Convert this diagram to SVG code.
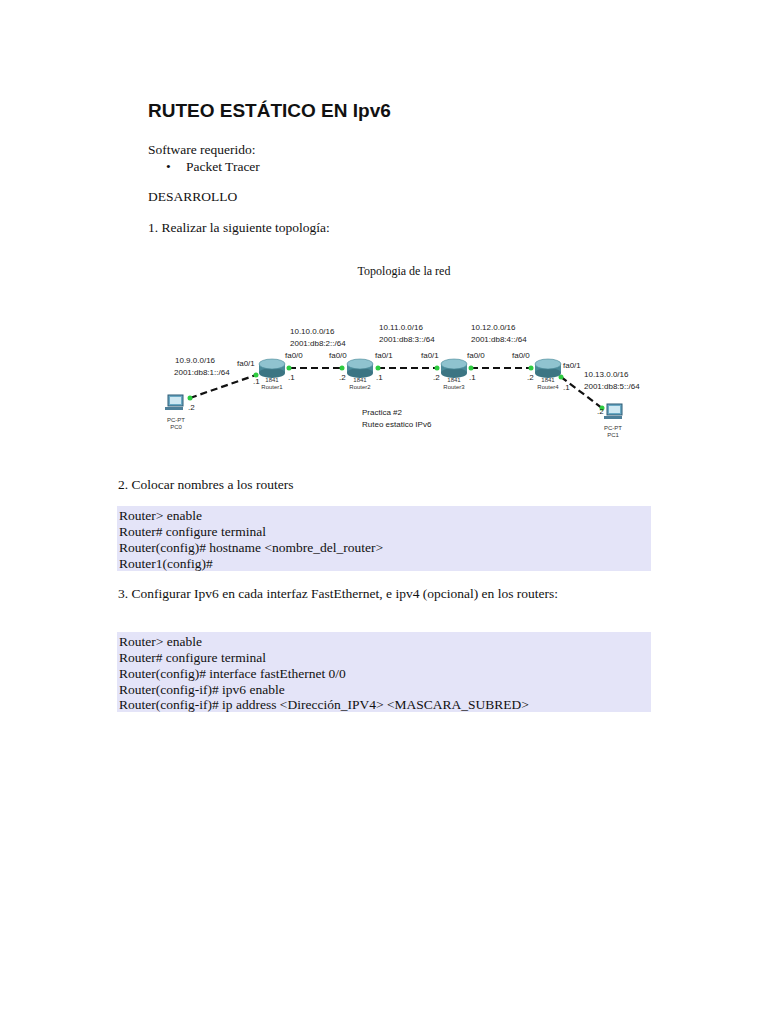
<svg xmlns="http://www.w3.org/2000/svg" width="768" height="1024" viewBox="0 0 768 1024">
<style>
.s{font-family:"Liberation Serif",serif;font-size:13.5px;fill:#111}
.t{font-family:"Liberation Sans",sans-serif;font-size:8px;fill:#222}
.l{font-family:"Liberation Sans",sans-serif;font-size:6px;fill:#333}
.lk{stroke:#111;stroke-width:2.2;stroke-dasharray:7,4;fill:none}
.d{fill:#2ecc40}
</style>
<defs>
<g id="rt"><rect x="-13" y="-4" width="26" height="9" fill="#4a8a99"/><ellipse cx="0" cy="5" rx="13" ry="5" fill="#3c7583"/><ellipse cx="0" cy="-4" rx="13" ry="5" fill="#8fc3cf" stroke="#4a8a99" stroke-width="0.6"/></g>
<g id="pc"><rect x="-7" y="-10" width="15" height="11" fill="#6aa9c4" stroke="#2d5b75"/><rect x="-5" y="-8" width="11" height="7" fill="#cfe8f2"/><rect x="-10" y="2" width="18" height="3" fill="#4d7f99"/></g>
</defs>
<rect width="768" height="1024" fill="#fff"/>
<text x="148" y="117" style="font-family:'Liberation Sans',sans-serif;font-size:19px;font-weight:bold;fill:#111">RUTEO ESTÁTICO EN Ipv6</text>
<text class="s" x="148" y="154">Software requerido:</text>
<text class="s" x="166" y="171">•</text>
<text class="s" x="186" y="171">Packet Tracer</text>
<text class="s" x="148" y="201">DESARROLLO</text>
<text class="s" x="148" y="232">1. Realizar la siguiente topología:</text>
<text class="s" x="404" y="275" text-anchor="middle" style="font-size:12px">Topologia de la red</text>
<g id="connectors">
<line class="lk" x1="190" y1="398" x2="256" y2="375"/>
<line class="lk" x1="289" y1="368" x2="342" y2="368"/>
<line class="lk" x1="378" y1="368" x2="437" y2="368"/>
<line class="lk" x1="471" y1="368" x2="531" y2="368"/>
<line class="lk" x1="561" y1="377" x2="602" y2="408"/>
<circle class="d" cx="190" cy="398" r="2.5"/><circle class="d" cx="256" cy="375" r="2.5"/>
<circle class="d" cx="289" cy="368" r="2.5"/><circle class="d" cx="342" cy="368" r="2.5"/>
<circle class="d" cx="378" cy="368" r="2.5"/><circle class="d" cx="437" cy="368" r="2.5"/>
<circle class="d" cx="471" cy="368" r="2.5"/><circle class="d" cx="531" cy="368" r="2.5"/>
<circle class="d" cx="561" cy="377" r="2.5"/><circle class="d" cx="602" cy="408" r="2.5"/>
</g>
<g id="pc0"><use href="#pc" x="175" y="405"/><text class="l" x="176" y="422" text-anchor="middle">PC-PT</text><text class="l" x="176" y="429" text-anchor="middle">PC0</text><text class="t" x="188" y="410">.2</text></g>
<g id="router1"><use href="#rt" x="272" y="368"/><text class="l" x="272" y="382" text-anchor="middle">1841</text><text class="l" x="272" y="389" text-anchor="middle">Router1</text><text class="t" x="237" y="366">fa0/1</text><text class="t" x="285" y="358">fa0/0</text><text class="t" x="253" y="384">.1</text><text class="t" x="288" y="380">.1</text></g>
<g id="router2"><use href="#rt" x="360" y="368"/><text class="l" x="360" y="382" text-anchor="middle">1841</text><text class="l" x="360" y="389" text-anchor="middle">Router2</text><text class="t" x="329" y="358">fa0/0</text><text class="t" x="375" y="358">fa0/1</text><text class="t" x="339" y="380">.2</text><text class="t" x="376" y="380">.1</text></g>
<g id="router3"><use href="#rt" x="454" y="368"/><text class="l" x="454" y="382" text-anchor="middle">1841</text><text class="l" x="454" y="389" text-anchor="middle">Router3</text><text class="t" x="421" y="358">fa0/1</text><text class="t" x="467" y="358">fa0/0</text><text class="t" x="433" y="380">.2</text><text class="t" x="469" y="380">.1</text></g>
<g id="router4"><use href="#rt" x="548" y="368"/><text class="l" x="548" y="382" text-anchor="middle">1841</text><text class="l" x="548" y="389" text-anchor="middle">Router4</text><text class="t" x="512" y="358">fa0/0</text><text class="t" x="563" y="368">fa0/1</text><text class="t" x="527" y="380">.2</text><text class="t" x="563" y="390">.1</text></g>
<g id="pc1"><use href="#pc" x="614" y="414"/><text class="l" x="613" y="430" text-anchor="middle">PC-PT</text><text class="l" x="613" y="437" text-anchor="middle">PC1</text><text class="t" x="597" y="414">.2</text></g>
<g id="netlabels">
<text class="t" x="175" y="363">10.9.0.0/16</text><text class="t" x="174" y="375">2001:db8:1::/64</text>
<text class="t" x="290" y="334">10.10.0.0/16</text><text class="t" x="290" y="346">2001:db8:2::/64</text>
<text class="t" x="379" y="330">10.11.0.0/16</text><text class="t" x="379" y="342">2001:db8:3::/64</text>
<text class="t" x="471" y="330">10.12.0.0/16</text><text class="t" x="471" y="342">2001:db8:4::/64</text>
<text class="t" x="584" y="377">10.13.0.0/16</text><text class="t" x="584" y="389">2001:db8:5::/64</text>
<text class="t" x="362" y="415">Practica #2</text><text class="t" x="362" y="427">Ruteo estatico IPv6</text>
</g>
<text class="s" x="118" y="489">2. Colocar nombres a los routers</text>
<rect x="117" y="506" width="534" height="65" fill="#e4e4f8"/>
<text class="s" x="119" y="520">Router&gt; enable</text>
<text class="s" x="119" y="536">Router# configure terminal</text>
<text class="s" x="119" y="552">Router(config)# hostname &lt;nombre_del_router&gt;</text>
<text class="s" x="119" y="568">Router1(config)#</text>
<text class="s" x="118" y="598">3. Configurar Ipv6 en cada interfaz FastEthernet, e ipv4 (opcional) en los routers:</text>
<rect x="117" y="632" width="534" height="80" fill="#e4e4f8"/>
<text class="s" x="119" y="646">Router&gt; enable</text>
<text class="s" x="119" y="662">Router# configure terminal</text>
<text class="s" x="119" y="678">Router(config)# interface fastEthernet 0/0</text>
<text class="s" x="119" y="694">Router(config-if)# ipv6 enable</text>
<text class="s" x="119" y="709">Router(config-if)# ip address &lt;Dirección_IPV4&gt; &lt;MASCARA_SUBRED&gt;</text>
</svg>
